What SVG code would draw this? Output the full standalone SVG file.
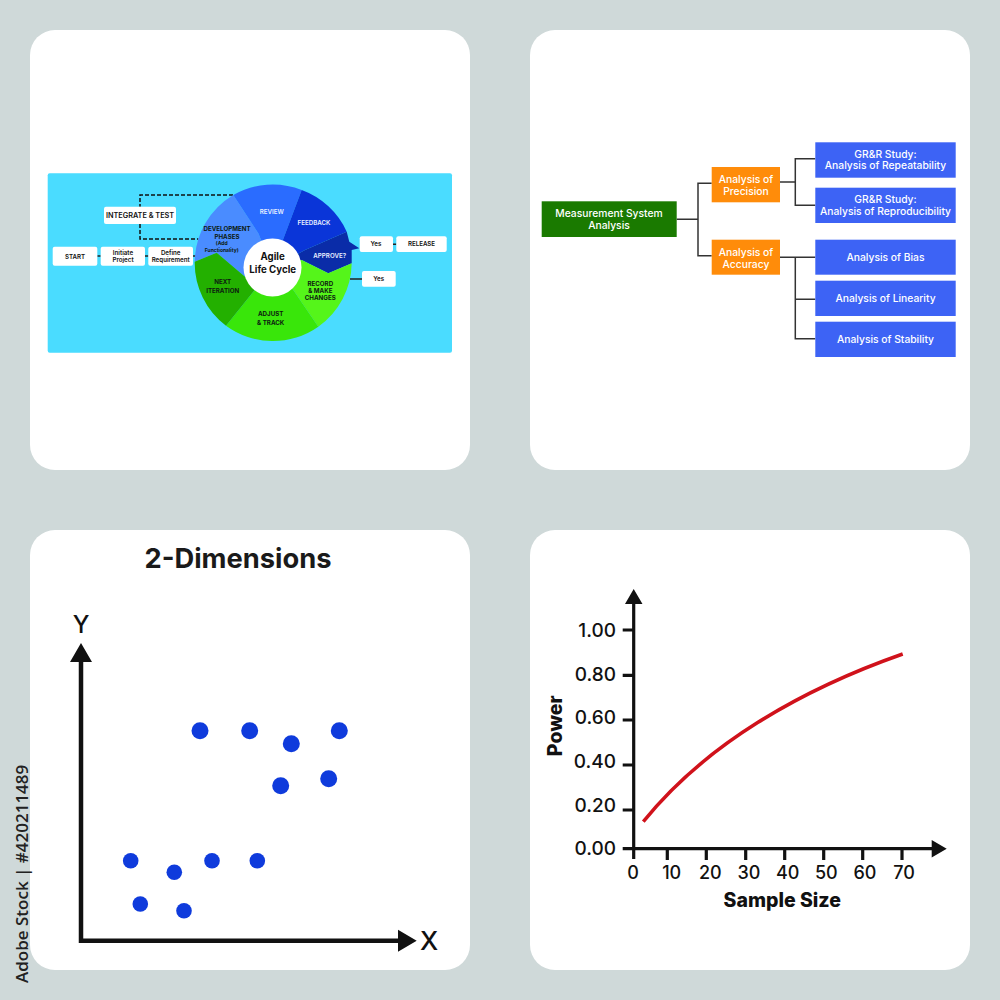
<svg xmlns="http://www.w3.org/2000/svg" width="1000" height="1000" viewBox="0 0 1000 1000">
<style>
text{font-family:Inter,"Liberation Sans",sans-serif;text-anchor:middle}
.card{fill:#fff}
.wb{fill:#fff;rx:2px}
.s{font-size:6.2px;font-weight:600;fill:#111}
.w{font-size:6.2px;font-weight:600;fill:#e8f0ff}
.k{font-size:6.2px;font-weight:700;fill:#0c1a10}
.lnk{fill:none;stroke:#222;stroke-width:1.5}
.dash{fill:none;stroke:#111;stroke-width:1.5;stroke-dasharray:4 2}
.tree{fill:none;stroke:#333;stroke-width:1.5}
.t{font-size:10.300px;font-weight:500;fill:#fff}
.o{fill:#ff8c0a}.b{fill:#3d63f5}
.ax{fill:none;stroke:#111;stroke-width:4.500}
.ax2{fill:none;stroke:#111;stroke-width:3.200}
.a{fill:#111}
.d{fill:#0f3bdc}
.n{font-size:18px;font-weight:500;fill:#111}
.ny{font-size:19px;font-weight:500;fill:#111;text-anchor:end}
.l{font-size:19.500px;font-weight:800;fill:#111}
</style>
<rect width="1000" height="1000" fill="#cfd9d9"/>
<rect class="card" x="30" y="30" width="440" height="440" rx="25"/>
<rect class="card" x="530" y="30" width="440" height="440" rx="25"/>
<rect class="card" x="30" y="530" width="440" height="440" rx="25"/>
<rect class="card" x="530" y="530" width="440" height="440" rx="25"/>
<text transform="translate(28 983) rotate(-90)" style="text-anchor:start;font-family:'Open Sans',sans-serif;font-size:17px;font-weight:600" fill="#222">Adobe Stock | #420211489</text>

<g id="agile">
<rect x="47.700" y="173.300" width="404.300" height="179.400" rx="2" fill="#4adcff"/>
<g id="agile-connectors">
<path class="dash" d="M233 195H140V206.700M140 224V239H198.300"/>
<path class="lnk" d="M97.300 256H100.700M145 256H148.300M193 256H196M393 244.300H396.300M350 279H362"/>
</g>
<g id="wheel">
<path fill="#4a8cff" d="M194.700 261.700A79 79 0 0 1 233.300 195L258.300 233.300 272.500 267.500 245 276.700 216.700 252.700Z"/>
<path fill="#2a6cff" d="M233.300 195A79 79 0 0 1 301.700 190L286 231.700 272.500 267.500 258.300 233.300Z"/>
<path fill="#0a35d8" d="M301.700 190A79 79 0 0 1 346.700 231.700L305 250 272.500 267.500 286 231.700Z"/>
<path fill="#0a2ca8" d="M346.700 231.700L349.300 241.700 359.300 248.300 351.700 250V263.300L328.300 273.300 301.700 260 272.500 267.500 305 250Z"/>
<path fill="#55f51a" d="M351.700 263.300A79 79 0 0 1 318.300 326.700L293.300 290 272.500 267.500 301.700 260 328.300 273.300Z"/>
<path fill="#39e60a" d="M318.300 326.700A79 79 0 0 1 226 325.700L253.300 291.700 272.500 267.500 293.300 290Z"/>
<path fill="#23b000" d="M226 325.700A79 79 0 0 1 194.700 261.700L216.700 252.700 245 276.700 272.500 267.500 253.300 291.700Z"/>
<circle cx="272.500" cy="267.500" r="29" fill="#fff"/>
<text x="272.700" y="260" style="font-size:9.700px;font-weight:700" fill="#111">Agile</text>
<text x="272.700" y="272.700" style="font-size:9.700px;font-weight:700" fill="#111">Life Cycle</text>
<text class="w" x="271.700" y="214">REVIEW</text>
<text class="w" x="314" y="225.300">FEEDBACK</text>
<text class="w" x="329.700" y="258">APPROVE?</text>
<text class="k" x="320.300" y="285.700">RECORD</text>
<text class="k" x="320.300" y="293">&amp; MAKE</text>
<text class="k" x="320.300" y="300.300">CHANGES</text>
<text class="k" x="270.700" y="316">ADJUST</text>
<text class="k" x="270.700" y="325">&amp; TRACK</text>
<text class="k" x="222.700" y="283.700">NEXT</text>
<text class="k" x="222.700" y="292.700">ITERATION</text>
<text class="k" x="227" y="231.300">DEVELOPMENT</text>
<text class="k" x="227" y="238.700">PHASES</text>
<text class="k" x="221.700" y="245.300" style="font-size:5px">(Add</text>
<text class="k" x="221.700" y="251.700" style="font-size:5px">Functionality)</text>
</g>
<g id="integrate"><rect class="wb" x="104" y="206.700" width="72" height="17.300"/><text x="140" y="217.700" style="font-size:7.300px;font-weight:600" fill="#111">INTEGRATE &amp; TEST</text></g>
<g id="start"><rect class="wb" x="52.700" y="246.700" width="44.600" height="19"/><text class="s" x="75" y="258.700">START</text></g>
<g id="initiate"><rect class="wb" x="100.700" y="246.700" width="44.300" height="19"/><text class="s" x="123" y="254.700">Initiate</text><text class="s" x="123" y="262.300">Project</text></g>
<g id="define"><rect class="wb" x="148.300" y="246.700" width="44.700" height="19"/><text class="s" x="170.700" y="254.700">Define</text><text class="s" x="170.700" y="262.300">Requirement</text></g>
<g id="yes1"><rect class="wb" x="359.700" y="236.300" width="33.300" height="15.700"/><text class="s" x="376" y="246.300">Yes</text></g>
<g id="release"><rect class="wb" x="396.300" y="236.300" width="50.400" height="15.700"/><text class="s" x="421.500" y="246.300">RELEASE</text></g>
<g id="yes2"><rect class="wb" x="362" y="271" width="33.700" height="15.700"/><text class="s" x="378.700" y="281.300">Yes</text></g>
</g>

<g id="tree-connectors">
<path class="tree" d="M676.700 219.300H698M711.700 183.300H698V255.700H711.700M780 182H795.300M815.300 158.700H795.300V205.300H815.300M780 257.300H815.300M795.300 257.300V338.700H815.300M795.300 299.300H815.300"/>
</g>
<g id="msa"><rect x="541.700" y="201.300" width="135" height="35.700" fill="#1a7a00"/><text class="t" x="609" y="217">Measurement System</text><text class="t" x="609" y="229">Analysis</text></g>
<g id="precision"><rect class="o" x="711.700" y="167" width="68.300" height="35.300"/><text class="t" x="746" y="183">Analysis of</text><text class="t" x="746" y="195">Precision</text></g>
<g id="accuracy"><rect class="o" x="711.700" y="239.700" width="68.300" height="35"/><text class="t" x="746" y="255.700">Analysis of</text><text class="t" x="746" y="267.700">Accuracy</text></g>
<g id="repeat"><rect class="b" x="815.300" y="142.300" width="140.400" height="35.400"/><text class="t" x="885.500" y="157.500">GR&amp;R Study:</text><text class="t" x="885.500" y="169.300">Analysis of Repeatability</text></g>
<g id="reprod"><rect class="b" x="815.300" y="187.700" width="140.400" height="35.300"/><text class="t" x="885.500" y="202.700">GR&amp;R Study:</text><text class="t" x="885.500" y="214.700">Analysis of Reproducibility</text></g>
<g id="bias"><rect class="b" x="815.300" y="239.700" width="140.400" height="35"/><text class="t" x="885.500" y="260.800">Analysis of Bias</text></g>
<g id="linearity"><rect class="b" x="815.300" y="280.700" width="140.400" height="35.300"/><text class="t" x="885.500" y="301.800">Analysis of Linearity</text></g>
<g id="stability"><rect class="b" x="815.300" y="321.700" width="140.400" height="35.300"/><text class="t" x="885.500" y="342.800">Analysis of Stability</text></g>

<g id="scatter">
<text x="238" y="568" style="font-size:27.300px;font-weight:700" fill="#1a1a1a">2-Dimensions</text>
<path class="ax" d="M81 660V940.700H400"/>
<path class="a" d="M81 643L92 662H70ZM416.700 940.700L398 951.700V929.700Z"/>
<text x="81" y="633" style="font-size:24px;font-weight:500" fill="#111">Y</text>
<text x="429" y="950" style="font-size:26px;font-weight:500" fill="#111">X</text>
<g class="d"><circle cx="200" cy="730.700" r="8.500"/><circle cx="249.700" cy="730.700" r="8.500"/><circle cx="291.300" cy="743.700" r="8.500"/><circle cx="339.300" cy="730.700" r="8.500"/><circle cx="280.700" cy="785.700" r="8.500"/><circle cx="328.700" cy="778.700" r="8.500"/><circle cx="130.700" cy="860.700" r="7.800"/><circle cx="174.300" cy="872.300" r="7.800"/><circle cx="212" cy="860.700" r="7.800"/><circle cx="257.300" cy="860.700" r="7.800"/><circle cx="140.300" cy="904" r="7.800"/><circle cx="184" cy="910.700" r="7.800"/></g>
</g>

<g id="power">
<path class="ax2" d="M633.700 603V859M622.700 848.700H933M622.700 630H634M622.700 675.300H634M622.700 720H634M622.700 765H634M622.700 810H634M667.300 848.700V860M706.300 848.700V860M745.700 848.700V860M784.700 848.700V860M823.700 848.700V860M862.700 848.700V860M902 848.700V860"/>
<path class="a" d="M633.700 589L642.500 604H625ZM946.700 848.700L931.700 840V857.500Z"/>
<path d="M643.300 821.700C705 745 800 690 902.700 654" fill="none" stroke="#d0121b" stroke-width="3.500"/>
<text class="ny" x="616" y="636.700">1.00</text>
<text class="ny" x="616" y="680.700">0.80</text>
<text class="ny" x="616" y="724">0.60</text>
<text class="ny" x="616" y="768">0.40</text>
<text class="ny" x="616" y="811.700">0.20</text>
<text class="ny" x="616" y="855">0.00</text>
<text class="n" x="633" y="879.300">0</text><text class="n" x="671.700" y="879.300">10</text><text class="n" x="710.300" y="879.300">20</text><text class="n" x="749" y="879.300">30</text><text class="n" x="787.700" y="879.300">40</text><text class="n" x="826.300" y="879.300">50</text><text class="n" x="865" y="879.300">60</text><text class="n" x="904" y="879.300">70</text>
<text class="l" x="782.300" y="907">Sample Size</text>
<text class="l" transform="translate(562 725.700) rotate(-90)">Power</text>
</g>
</svg>
